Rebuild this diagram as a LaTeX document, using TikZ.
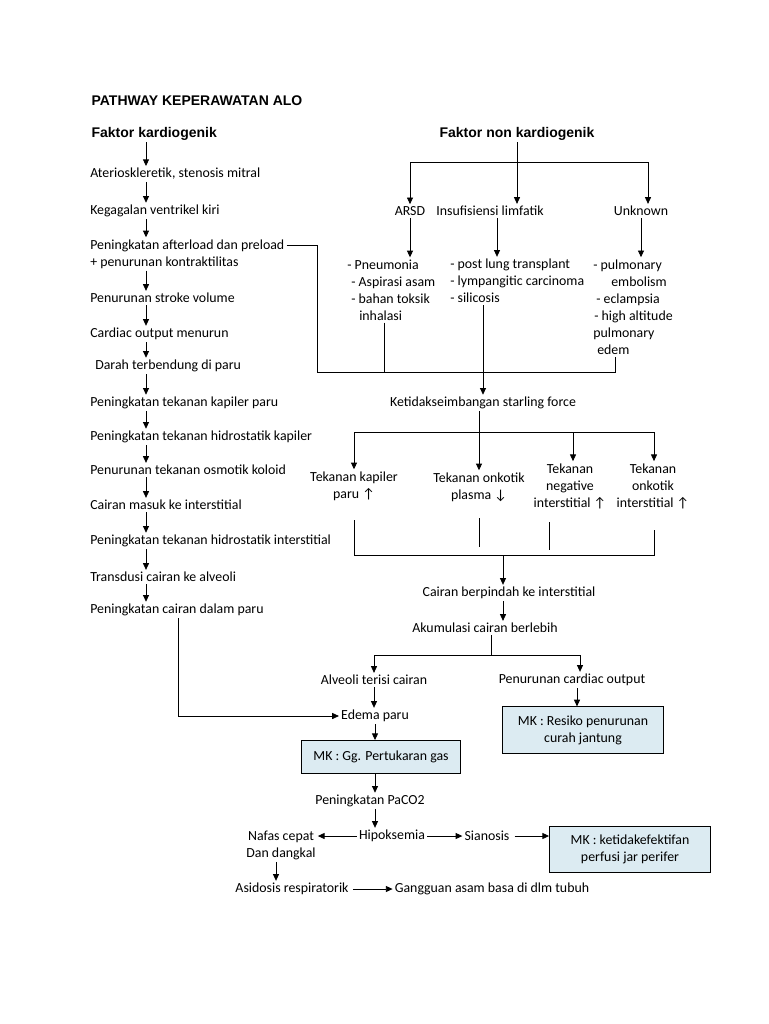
\documentclass[tikz,border=0pt]{standalone}
\usepackage{fontspec}
\setmainfont{Carlito}
\newfontfamily\arialf{Liberation Sans}
\usetikzlibrary{arrows.meta}
\definecolor{mkfill}{HTML}{DCEBF2}
\begin{document}
\begin{tikzpicture}[x=0.75pt,y=-0.75pt,
  t/.style={inner sep=1.5pt,font=\fontsize{10.4}{12.8}\selectfont,align=center},
  tl/.style={t,anchor=west,align=left},
  hd/.style={inner sep=1pt,anchor=west,font=\arialf\bfseries\fontsize{10.5}{12}\selectfont},
  mk/.style={t,draw,fill=mkfill,minimum height=#1},
  ar/.style={-{Triangle[length=5pt,width=4.5pt]},line width=0.6pt},
  ln/.style={line width=0.6pt}]
\useasboundingbox (0,0) rectangle (768,1024);
\coordinate (lx) at (146,0);
% left column
\node[hd] (title) at (90,101) {PATHWAY KEPERAWATAN ALO};
\node[hd] (fk) at (90,134) {Faktor kardiogenik};
\node[tl] (l1) at (88,174) {Aterioskleretik, stenosis mitral};
\node[tl] (l2) at (88,211) {Kegagalan ventrikel kiri};
\node[tl] (l3) at (88,254) {Peningkatan afterload dan preload\\+ penurunan kontraktilitas};
\node[tl] (l4) at (88,298) {Penurunan stroke volume};
\node[tl] (l5) at (88,334) {Cardiac output menurun};
\node[tl] (l6) at (93,366) {Darah terbendung di paru};
\node[tl] (l7) at (88,403) {Peningkatan tekanan kapiler paru};
\node[tl] (l8) at (88,437) {Peningkatan tekanan hidrostatik kapiler};
\node[tl] (l9) at (88,470) {Penurunan tekanan osmotik koloid};
\node[tl] (l10) at (88,505) {Cairan masuk ke interstitial};
\node[tl] (l11) at (88,541) {Peningkatan tekanan hidrostatik interstitial};
\node[tl] (l12) at (88,577) {Transdusi cairan ke alveoli};
\node[tl] (l13) at (88,610) {Peningkatan cairan dalam paru};
\foreach \a/\b in {fk/l1,l1/l2,l2/l3,l3/l4,l4/l5,l5/l6,l6/l7,l7/l8,l8/l9,l9/l10,l10/l11,l11/l12,l12/l13}
  \draw[ar] (\a.south -| lx) -- (\b.north -| lx);
% non cardiogenic
\node[hd,anchor=center] (fnk) at (517,134) {Faktor non kardiogenik};
\node[t] (arsd) at (410,211) {ARSD};
\node[t] (ins) at (490,211) {Insufisiensi limfatik};
\node[t] (unk) at (641,211) {Unknown};
\coordinate (jn) at (517,162);
\draw[ln] (fnk.south) -- (jn);
\draw[ln] (410,162) -- (648,162);
\draw[ar] (410,162) -- (arsd.north);
\draw[ar] (jn) -- (ins.north -| jn);
\draw[ar] (648,162) -- (unk.north -| 648,0);
\node[tl] (la) at (345,290) {- Pneumonia\\\hspace*{3pt}- Aspirasi asam\\\hspace*{3pt}- bahan toksik\\\hspace*{9pt}inhalasi};
\node[tl] (lb) at (448,281) {- post lung transplant\\- lympangitic carcinoma\\- silicosis};
\node[tl] (lc) at (591,307) {- pulmonary\\\hspace*{13.5pt}embolism\\\hspace*{2.25pt}- eclampsia\\\hspace*{0.75pt}- high altitude\\pulmonary\\\hspace*{3pt}edem};
\draw[ar] (arsd.south) -- (arsd.south |- la.north);
\draw[ar] (ins.south -| 497,0) -- (lb.north -| 497,0);
\draw[ar] (unk.south) -- (unk.south |- lc.north);
% merge line
\node[t] (ks) at (483,403) {Ketidakseimbangan starling force};
\coordinate (mL) at (317,372);
\coordinate (mR) at (615,372);
\draw[ln] (l3.east |- 0,245) -| (mL) -- (mR) -- (lc.south -| mR);
\draw[ln] (la.south -| 384,0) -- (384,372);
\draw[ar] (lb.south -| ks) -- (ks.north);
% four factors
\node[t] (f1) at (354,486) {Tekanan kapiler\\paru ↑};
\node[t] (f2) at (479,487) {Tekanan onkotik\\plasma ↓};
\node[t] (f3) at (570,486) {Tekanan\\negative\\interstitial ↑};
\node[t] (f4) at (653,486) {Tekanan\\onkotik\\interstitial ↑};
\draw[ln] (ks.south -| 479,0) -- (479,432);
\draw[ln] (354,432) -- (654,432);
\foreach \n/\x in {f1/354,f2/479,f3/573,f4/654}
  \draw[ar] (\x,432) -- (\n.north -| \x,0);
\draw[ln] (354,520) -- (354,555) -- (654,555) -- (654,530);
\draw[ln] (479,518) -- (479,547);
\draw[ln] (549,522) -- (549,550);
\node[t] (cb) at (509,593) {Cairan berpindah ke interstitial};
\node[t] (ak) at (485,628) {Akumulasi cairan berlebih};
\draw[ar] (503,555) -- (cb.north -| 503,0);
\draw[ar] (cb.south -| 503,0) -- (ak.north -| 503,0);
\node[t] (al) at (374,680) {Alveoli terisi cairan};
\node[t] (pc) at (572,680) {Penurunan cardiac output};
\draw[ln] (ak.south -| 491,0) -- (491,655);
\draw[ln] (374,655) -- (580,655);
\draw[ar] (374,655) -- (al.north);
\draw[ar] (580,655) -- (pc.north -| 580,0);
\node[t] (ed) at (375,716) {Edema paru};
\draw[ar] (al.south) -- (ed.north -| al);
\draw[ar] (l13.south -| 178,0) -- (178,716) -- (ed.west);
\node[mk=25pt,minimum width=119pt] (mk1) at (381,757) {MK : Gg. Pertukaran gas};
\node[mk=35pt,minimum width=121pt] (mk2) at (583,730) {MK : Resiko penurunan\\curah jantung};
\draw[ar] (ed.south) -- (mk1.north -| ed);
\draw[ar] (pc.south -| 577,0) -- (mk2.north -| 577,0);
\node[t] (pa) at (370,801) {Peningkatan PaCO2};
\draw[ar] (mk1.south -| 375,0) -- (pa.north -| 375,0);
\node[t] (hi) at (392,836) {Hipoksemia};
\draw[ar] (pa.south -| 375,0) -- (hi.north -| 375,0);
\node[t] (nf) at (281,845) {Nafas cepat\\Dan dangkal};
\node[t] (si) at (487,836) {Sianosis};
\node[mk=34.5pt,minimum width=121pt] (mk3) at (630,849) {MK : ketidakefektifan\\perfusi jar perifer};
\draw[ar] (hi.west) -- (nf.east |- hi);
\draw[ar] (hi.east) -- (si.west);
\draw[ar] (si.east) ++(3,0) -- (mk3.west |- si);
\node[t] (as) at (292,889) {Asidosis respiratorik};
\node[t] (gg) at (492,889) {Gangguan asam basa di dlm tubuh};
\draw[ar] (nf.south -| 276,0) -- (as.north -| 276,0);
\draw[ar] (as.east) ++(2,0) -- (gg.west);
\end{tikzpicture}
\end{document}
